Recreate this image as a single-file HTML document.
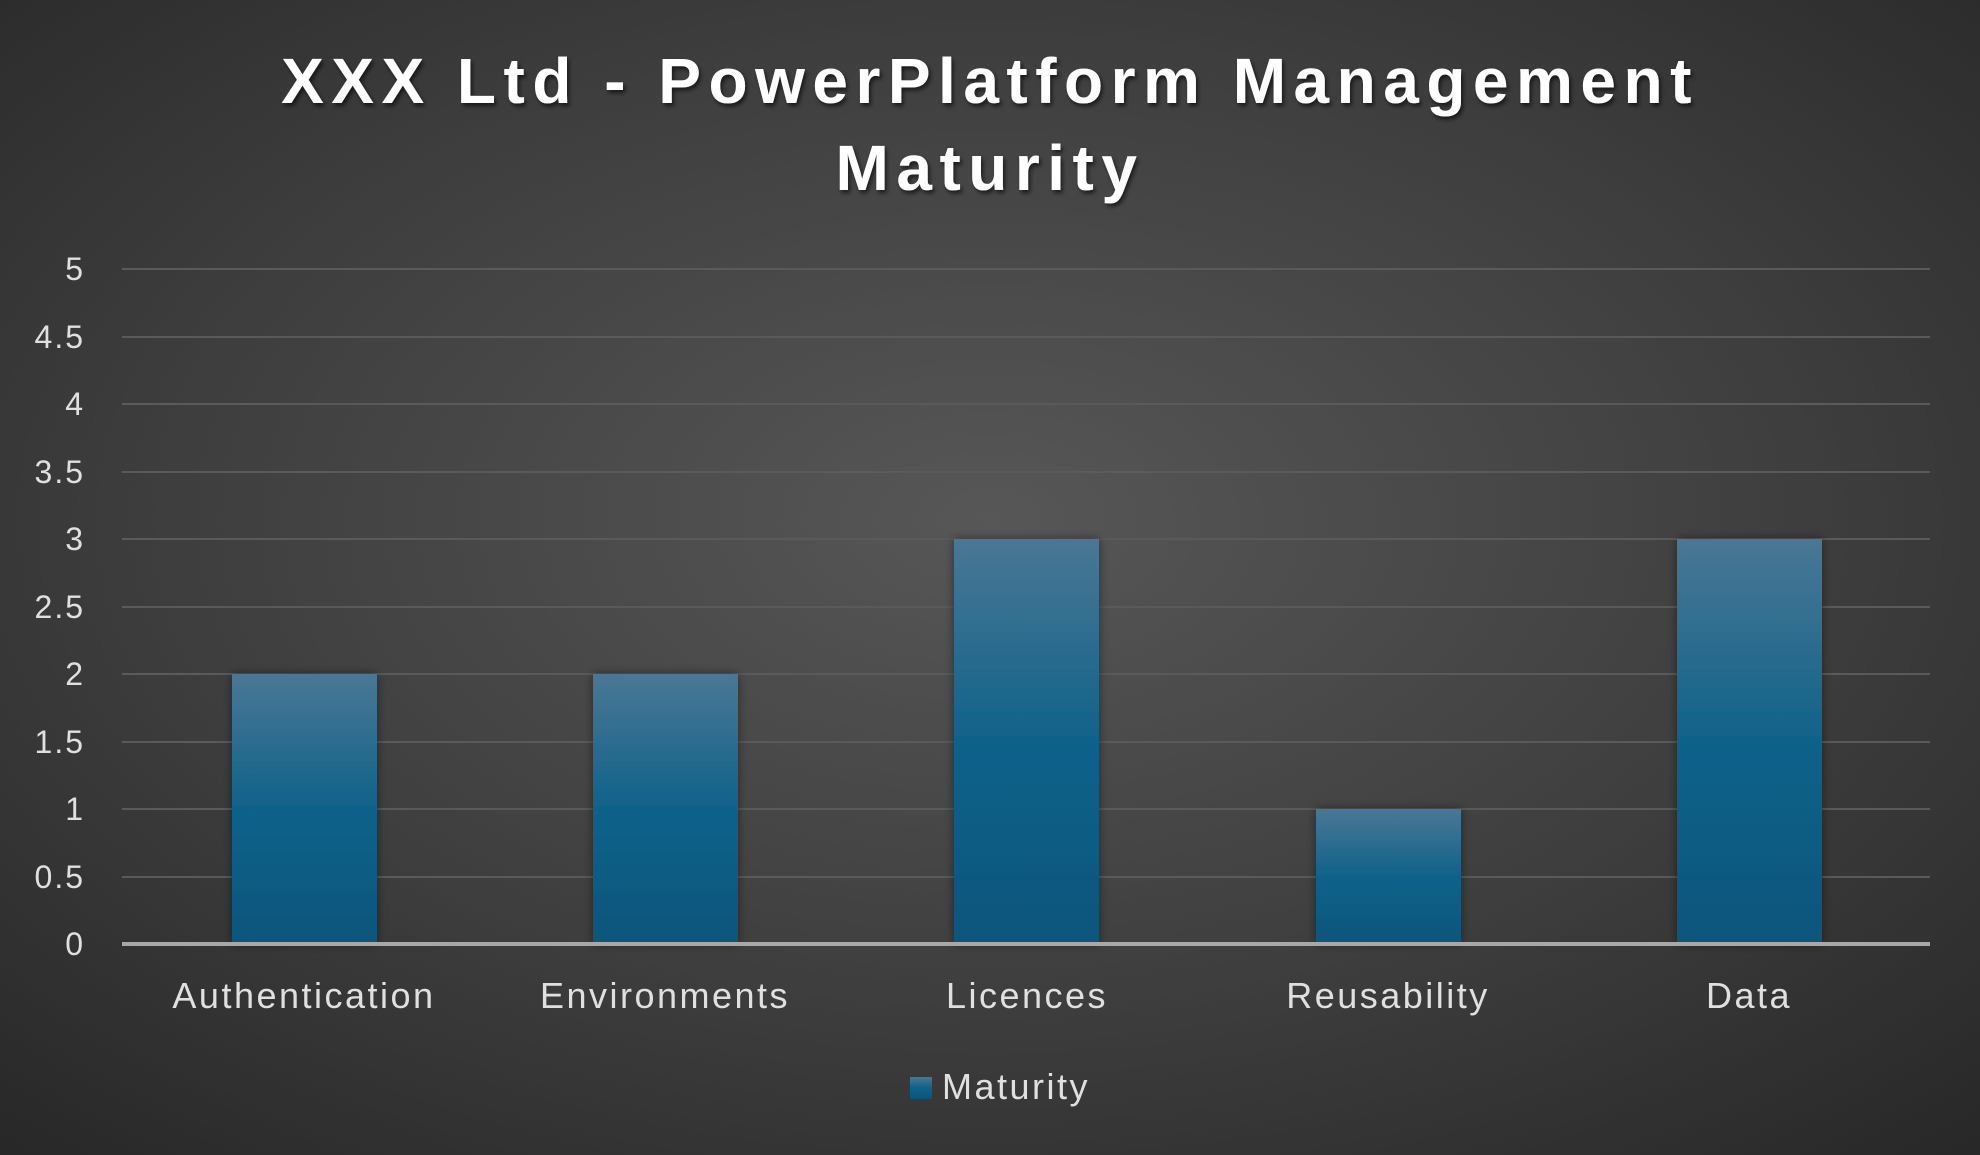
<!DOCTYPE html>
<html><head><meta charset="utf-8"><style>
html,body{margin:0;padding:0;width:1980px;height:1155px;overflow:hidden}
body{background:radial-gradient(ellipse 75% 75% at 50% 45%,#575757 0%,#3e3e3e 55%,#272727 100%)}
svg{position:absolute;left:0;top:0}
text{font-family:"Liberation Sans",sans-serif}
</style></head><body>
<svg width="1980" height="1155" viewBox="0 0 1980 1155">
<defs>
<linearGradient id="g" x1="0" y1="0" x2="0" y2="1">
<stop offset="0" stop-color="#4a7795"/><stop offset="0.5" stop-color="#10628a"/><stop offset="1" stop-color="#08557c"/>
</linearGradient>
<filter id="s" x="-20%" y="-10%" width="140%" height="120%"><feDropShadow dx="0" dy="0" stdDeviation="5" flood-color="#000" flood-opacity="0.45"/></filter>
<filter id="ts"><feDropShadow dx="2" dy="3" stdDeviation="2" flood-color="#000" flood-opacity="0.6"/></filter>
</defs>
<g font-weight="bold" font-size="64" fill="#fff" text-anchor="middle" letter-spacing="7.5" filter="url(#ts)">
<text x="990" y="103">XXX Ltd - PowerPlatform Management</text>
<text x="990" y="190">Maturity</text>
</g>
<g stroke="#5a5a5a" stroke-width="2">
<line x1="122" x2="1930" y1="269" y2="269"/><line x1="122" x2="1930" y1="337" y2="337"/>
<line x1="122" x2="1930" y1="404" y2="404"/><line x1="122" x2="1930" y1="472" y2="472"/>
<line x1="122" x2="1930" y1="539" y2="539"/><line x1="122" x2="1930" y1="607" y2="607"/>
<line x1="122" x2="1930" y1="674" y2="674"/><line x1="122" x2="1930" y1="742" y2="742"/>
<line x1="122" x2="1930" y1="809" y2="809"/><line x1="122" x2="1930" y1="877" y2="877"/>
</g>
<g font-size="32" fill="#e0e0e0" text-anchor="end" letter-spacing="2">
<text x="85" y="280">5</text><text x="85" y="348">4.5</text><text x="85" y="415">4</text>
<text x="85" y="483">3.5</text><text x="85" y="550">3</text><text x="85" y="618">2.5</text>
<text x="85" y="685">2</text><text x="85" y="753">1.5</text><text x="85" y="820">1</text>
<text x="85" y="888">0.5</text><text x="85" y="955">0</text>
</g>
<g fill="url(#g)" filter="url(#s)">
<rect x="232" y="674" width="145" height="270"/>
<rect x="593" y="674" width="145" height="270"/>
<rect x="954" y="539" width="145" height="405"/>
<rect x="1316" y="809" width="145" height="135"/>
<rect x="1677" y="539" width="145" height="405"/>
</g>
<line x1="122" x2="1930" y1="944" y2="944" stroke="#a8a8a8" stroke-width="4"/>
<g font-size="36" fill="#e0e0e0" text-anchor="middle" letter-spacing="2.5">
<text x="304" y="1008">Authentication</text><text x="665" y="1008">Environments</text>
<text x="1027" y="1008">Licences</text><text x="1388" y="1008">Reusability</text>
<text x="1749" y="1008">Data</text>
</g>
<rect x="910" y="1077" width="22" height="22" fill="url(#g)"/>
<text x="942" y="1099" font-size="36" fill="#e0e0e0" letter-spacing="2.5">Maturity</text>
</svg>
</body></html>
